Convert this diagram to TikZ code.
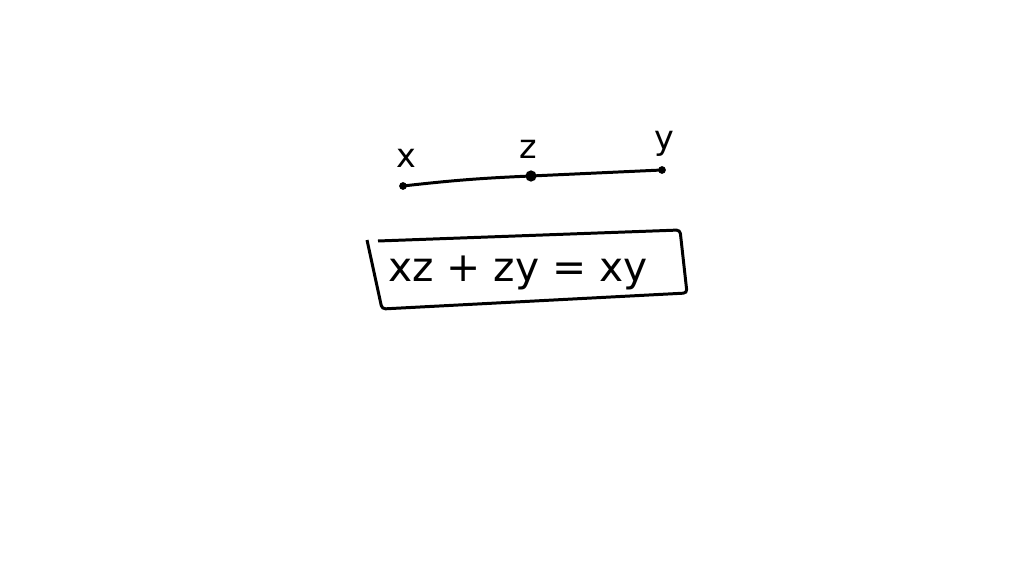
\documentclass[tikz,border=0pt]{standalone}
\usepackage{fontspec}
\setmainfont{DejaVu Sans}
\begin{document}
\begin{tikzpicture}[x=0.01cm,y=-0.01cm,line width=0.85pt,
  dot/.style={circle,fill,inner sep=0pt,minimum size=2.2pt},
  lbl/.style={font=\fontsize{9.5}{11}\selectfont}]
\useasboundingbox (0,0) rectangle (1024,576);
\node [dot] (x) at (403,186) {};
\node [dot,minimum size=3.2pt] (z) at (531,176) {};
\node [dot] (y) at (662,170) {};
\draw (x.center) to[bend left=2] (z.center) -- (y.center);
\node [lbl] (lx) at (406,158) {x};
\node [lbl] (lz) at (528,149) {z};
\node [lbl] (ly) at (664,144) {y};
\draw [rounded corners=1pt] (378,241) -- (680,230) -- (687,293) -- (382,309) -- (367,240);
\node [font=\fontsize{11.6}{14}\selectfont] (eq) at (518,273) {xz + zy = xy};
\end{tikzpicture}
\end{document}
